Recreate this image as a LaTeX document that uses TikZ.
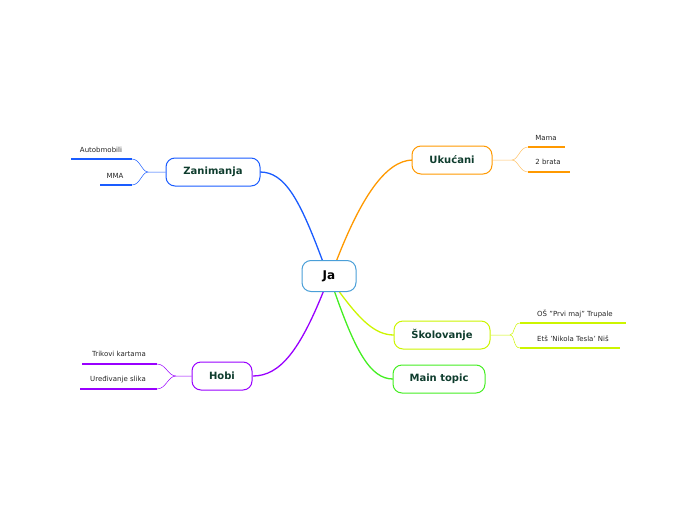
\documentclass[tikz,border=0pt]{standalone}
\usepackage{fontspec}
\setmainfont{DejaVu Sans}
\definecolor{cja}{HTML}{4A9FD8}
\definecolor{cblue}{HTML}{1A5CFF}
\definecolor{corange}{HTML}{FF9900}
\definecolor{clime}{HTML}{CCF500}
\definecolor{cgreen}{HTML}{44EE22}
\definecolor{cpurple}{HTML}{9900FF}
\definecolor{ctext}{HTML}{0F3D2E}
\begin{document}
\begin{tikzpicture}[x=1pt,y=-1pt,
 topic/.style={draw,line width=1pt,rounded corners=9pt,fill=white,text=ctext,font=\bfseries\fontsize{10}{12}\selectfont,minimum height=28pt,inner sep=0pt},
 leaf/.style={font=\fontsize{7}{8}\selectfont,text=black!85,inner sep=0pt},
 main/.style={line width=1.3pt},
 sub/.style={line width=0.5pt},
 ul/.style={line width=1.6pt}]
\useasboundingbox (0,0) rectangle (697,520);
% main connectors
\draw[main,cblue] (323,262) .. controls (300,200) and (285,172) .. (260,172);
\draw[main,corange] (336,262) .. controls (360,200) and (385,160) .. (413,160);
\draw[main,clime] (338,290) .. controls (360,320) and (375,335) .. (394,335);
\draw[main,cgreen] (334,290) .. controls (355,350) and (370,379) .. (393,379);
\draw[main,cpurple] (324,290) .. controls (300,350) and (280,376) .. (253,376);
\node[topic,draw=cja,minimum width=54pt,minimum height=31pt,font=\bfseries\fontsize{12}{14}\selectfont,text=black] (ja) at (329,276) {Ja};
\node[topic,draw=cblue,minimum width=94pt] (zan) at (213,172) {Zanimanja};
\node[topic,draw=corange,minimum width=80pt] (uku) at (452,160) {Ukućani};
\node[topic,draw=clime,minimum width=96pt] (sko) at (442,335) {Školovanje};
\node[topic,draw=cgreen,minimum width=92pt] (mt) at (439,379) {Main topic};
\node[topic,draw=cpurple,minimum width=60pt] (hob) at (222,376) {Hobi};
% leaves: Zanimanja
\coordinate (za1) at (132,159); \coordinate (za2) at (132,185);
\draw[ul,cblue] (71,159) -- (za1); \draw[ul,cblue] (100,185) -- (za2);
\node[leaf] at (101,150) {Autobmobili};
\node[leaf] at (115,176) {MMA};
\draw[sub,cblue] (zan.west) -- (148,172) .. controls (142,172) and (140,159) .. (za1);
\draw[sub,cblue] (148,172) .. controls (142,172) and (140,185) .. (za2);
% Ukućani
\coordinate (u1) at (528,147); \coordinate (u2) at (528,172);
\draw[ul,corange] (u1) -- (565,147); \draw[ul,corange] (u2) -- (570,172);
\node[leaf] at (546,138) {Mama};
\node[leaf] at (548,162) {2 brata};
\draw[sub,corange!60] (uku.east) -- (512,160) .. controls (518,160) and (520,147) .. (u1);
\draw[sub,corange!60] (512,160) .. controls (518,160) and (520,172) .. (u2);
% Školovanje
\coordinate (s1) at (520,323); \coordinate (s2) at (520,348);
\draw[ul,clime] (s1) -- (626,323); \draw[ul,clime] (s2) -- (620,348);
\node[leaf] at (575,314) {OŠ "Prvi maj" Trupale};
\node[leaf] at (573,339) {Etš 'Nikola Tesla' Niš};
\draw[sub,clime] (sko.east) -- (510,335) .. controls (515,335) and (513,323) .. (s1);
\draw[sub,clime] (510,335) .. controls (515,335) and (513,348) .. (s2);
% Hobi
\coordinate (h1) at (157,364); \coordinate (h2) at (157,389);
\draw[ul,cpurple] (82,364) -- (h1); \draw[ul,cpurple] (80,389) -- (h2);
\node[leaf] at (119,354) {Trikovi kartama};
\node[leaf] at (118,380) {Uređivanje slika};
\draw[sub,cpurple] (hob.west) -- (176,376) .. controls (168,376) and (166,364) .. (h1);
\draw[sub,cpurple] (176,376) .. controls (168,376) and (166,389) .. (h2);
\end{tikzpicture}
\end{document}
